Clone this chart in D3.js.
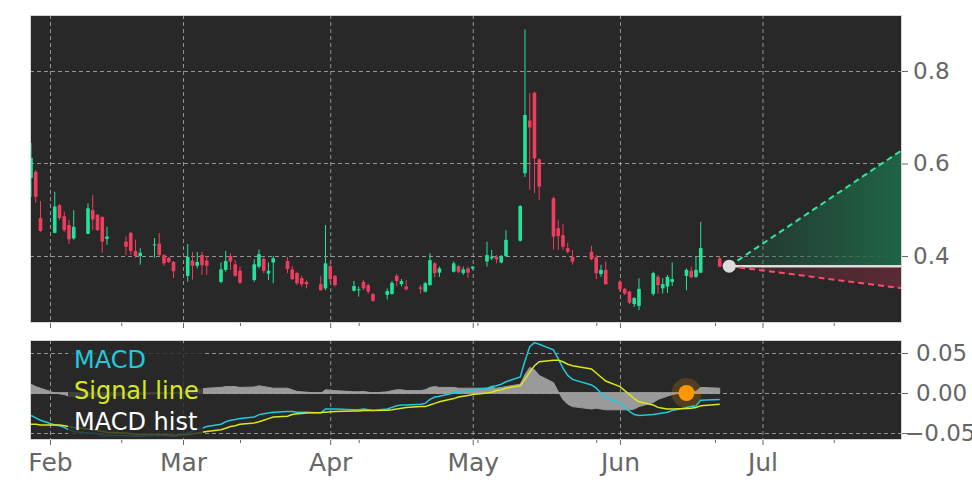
<!DOCTYPE html>
<html>
<head>
<meta charset="utf-8">
<script src="https://cdn.jsdelivr.net/npm/d3@7"></script>
<style>
	body { margin: 0; background: #ffffff; }
	svg text { font-family: "DejaVu Sans", sans-serif; }
</style>
</head>
<body>
<div id="chart"></div>
<script>
// trading days (weekends and holidays skipped)
var dates = [
	"2026-01-28","2026-01-29","2026-01-30",
	"2026-02-02","2026-02-03","2026-02-04","2026-02-05","2026-02-06",
	"2026-02-09","2026-02-10","2026-02-11","2026-02-12","2026-02-13",
	"2026-02-17","2026-02-18","2026-02-19","2026-02-20",
	"2026-02-23","2026-02-24","2026-02-25","2026-02-26","2026-02-27",
	"2026-03-02","2026-03-03","2026-03-04","2026-03-05","2026-03-06",
	"2026-03-09","2026-03-10","2026-03-11","2026-03-12","2026-03-13",
	"2026-03-16","2026-03-17","2026-03-18","2026-03-19","2026-03-20",
	"2026-03-23","2026-03-24","2026-03-25","2026-03-26","2026-03-27",
	"2026-03-30","2026-03-31","2026-04-01","2026-04-02",
	"2026-04-06","2026-04-07","2026-04-08","2026-04-09","2026-04-10",
	"2026-04-13","2026-04-14","2026-04-15","2026-04-16","2026-04-17",
	"2026-04-20","2026-04-21","2026-04-22","2026-04-23","2026-04-24",
	"2026-04-27","2026-04-28","2026-04-29","2026-04-30","2026-05-01",
	"2026-05-04","2026-05-05","2026-05-06","2026-05-07","2026-05-08",
	"2026-05-11","2026-05-12","2026-05-13","2026-05-14","2026-05-15",
	"2026-05-18","2026-05-19","2026-05-20","2026-05-21","2026-05-22",
	"2026-05-26","2026-05-27","2026-05-28","2026-05-29",
	"2026-06-01","2026-06-02","2026-06-03","2026-06-04","2026-06-05",
	"2026-06-08","2026-06-09","2026-06-10","2026-06-11","2026-06-12",
	"2026-06-15","2026-06-16","2026-06-17","2026-06-18",
	"2026-06-22"
];

var opens = [
	0.569,0.582,0.482,
	0.450,0.510,0.486,0.467,0.438,
	0.448,0.499,0.489,0.484,0.437,
	0.431,0.450,0.411,0.400,
	0.423,0.427,0.402,0.396,0.387,
	0.357,0.390,0.379,0.402,0.390,
	0.344,0.370,0.400,0.382,0.368,
	0.348,0.377,0.394,0.362,0.386,
	0.389,0.371,0.363,0.352,0.344,
	0.339,0.330,0.378,0.357,
	0.325,0.326,0.344,0.337,0.318,
	0.316,0.318,0.357,0.339,0.334,
	0.332,0.323,0.337,0.384,0.364,
	0.366,0.378,0.363,0.373,0.373,
	0.388,0.395,0.398,0.386,0.400,
	0.433,0.579,0.693,0.753,0.609,
	0.525,0.460,0.445,0.417,0.398,
	0.409,0.397,0.361,0.370,
	0.344,0.329,0.323,0.296,0.292,
	0.318,0.355,0.330,0.334,0.344,
	0.357,0.368,0.355,0.364,
	0.395
];
var highs = [
	0.644,0.586,0.519,
	0.539,0.512,0.496,0.478,0.499,
	0.514,0.532,0.491,0.486,0.463,
	0.442,0.452,0.435,0.417,
	0.439,0.450,0.404,0.398,0.389,
	0.426,0.409,0.409,0.409,0.400,
	0.386,0.411,0.406,0.391,0.377,
	0.393,0.414,0.397,0.386,0.400,
	0.398,0.378,0.366,0.357,0.347,
	0.357,0.467,0.386,0.359,
	0.346,0.334,0.348,0.340,0.320,
	0.330,0.346,0.361,0.350,0.348,
	0.337,0.344,0.406,0.387,0.377,
	0.388,0.380,0.377,0.377,0.378,
	0.431,0.413,0.402,0.402,0.456,
	0.510,0.890,0.752,0.755,0.611,
	0.528,0.478,0.469,0.429,0.413,
	0.422,0.402,0.381,0.388,
	0.348,0.331,0.325,0.311,0.352,
	0.366,0.359,0.352,0.359,0.386,
	0.373,0.377,0.398,0.474,
	0.400
];
var lows = [
	0.528,0.515,0.452,
	0.449,0.478,0.452,0.426,0.435,
	0.447,0.456,0.454,0.407,0.424,
	0.402,0.402,0.396,0.381,
	0.396,0.399,0.379,0.385,0.352,
	0.344,0.349,0.373,0.359,0.359,
	0.341,0.366,0.370,0.355,0.340,
	0.344,0.373,0.363,0.348,0.341,
	0.363,0.348,0.337,0.333,0.330,
	0.325,0.326,0.341,0.334,
	0.323,0.312,0.326,0.318,0.301,
	0.306,0.316,0.335,0.334,0.325,
	0.319,0.321,0.336,0.354,0.355,
	0.364,0.363,0.359,0.352,0.370,
	0.377,0.391,0.384,0.384,0.398,
	0.431,0.571,0.543,0.536,0.521,
	0.414,0.413,0.413,0.406,0.381,
	0.391,0.350,0.355,0.338,
	0.323,0.316,0.296,0.290,0.283,
	0.314,0.319,0.319,0.320,0.335,
	0.326,0.352,0.352,0.363,
	0.376
];
var closes = [
	0.612,0.528,0.454,
	0.507,0.482,0.456,0.436,0.463,
	0.503,0.479,0.456,0.431,0.442,
	0.420,0.411,0.400,0.407,
	0.425,0.402,0.384,0.387,0.367,
	0.398,0.379,0.387,0.380,0.379,
	0.371,0.389,0.388,0.357,0.342,
	0.382,0.404,0.368,0.368,0.395,
	0.372,0.350,0.341,0.339,0.339,
	0.326,0.384,0.350,0.337,
	0.335,0.328,0.330,0.323,0.303,
	0.324,0.342,0.346,0.346,0.328,
	0.329,0.341,0.391,0.363,0.373,
	0.384,0.366,0.371,0.364,0.377,
	0.402,0.398,0.393,0.400,0.435,
	0.508,0.705,0.678,0.611,0.550,
	0.442,0.443,0.420,0.409,0.388,
	0.393,0.363,0.370,0.339,
	0.328,0.319,0.299,0.309,0.329,
	0.363,0.337,0.339,0.355,0.350,
	0.370,0.354,0.370,0.417,
	0.377
];

var macdLine = [
	-0.028,-0.031,-0.034,
	-0.040,-0.041,-0.043,-0.046,-0.048,
	-0.050,-0.050,-0.051,-0.053,-0.053,
	-0.053,-0.054,-0.054,-0.054,
	-0.053,-0.053,-0.053,-0.053,-0.054,
	-0.050,-0.048,-0.045,-0.044,-0.042,
	-0.039,-0.036,-0.034,-0.033,-0.032,
	-0.030,-0.027,-0.026,-0.025,-0.024,
	-0.023,-0.023,-0.024,-0.024,-0.024,
	-0.025,-0.020,-0.020,-0.020,
	-0.021,-0.021,-0.020,-0.021,-0.022,
	-0.020,-0.018,-0.016,-0.015,-0.015,
	-0.014,-0.013,-0.008,-0.005,-0.004,
	0.000,0.001,0.002,0.003,0.004,
	0.006,0.008,0.009,0.011,0.014,
	0.020,0.040,0.058,0.063,0.061,
	0.054,0.043,0.031,0.022,0.017,
	0.010,0.006,0.000,-0.006,
	-0.013,-0.018,-0.023,-0.027,-0.028,
	-0.027,-0.026,-0.025,-0.024,-0.022,
	-0.018,-0.017,-0.016,-0.009,
	-0.008
];
var signalLine = [
	-0.039,-0.039,-0.040,
	-0.040,-0.040,-0.041,-0.042,-0.043,
	-0.045,-0.046,-0.047,-0.048,-0.049,
	-0.050,-0.051,-0.052,-0.052,
	-0.052,-0.052,-0.052,-0.052,-0.053,
	-0.052,-0.051,-0.050,-0.049,-0.048,
	-0.046,-0.044,-0.042,-0.041,-0.039,
	-0.0375,-0.036,-0.034,-0.032,-0.030,
	-0.029,-0.027,-0.026,-0.0255,-0.025,
	-0.0245,-0.024,-0.0235,-0.023,
	-0.0225,-0.0225,-0.022,-0.022,-0.022,
	-0.0215,-0.021,-0.020,-0.019,-0.018,
	-0.017,-0.017,-0.015,-0.013,-0.011,
	-0.007,-0.005,-0.004,-0.003,-0.002,
	0.000,0.001,0.003,0.004,0.006,
	0.009,0.017,0.026,0.034,0.039,
	0.041,0.041,0.039,0.036,0.034,
	0.030,0.025,0.020,0.015,
	0.008,0.003,-0.002,-0.007,-0.011,
	-0.015,-0.018,-0.019,-0.020,-0.020,
	-0.0195,-0.019,-0.018,-0.016,
	-0.014
];

// forecast cone from the last close
var coneDates = ["2026-06-24", "2026-07-30T09:00"];
var coneUpper = [0.378, 0.629];
var coneLower = [0.378, 0.330];
var lastClose = 0.378;

var crossDate = "2026-06-15";
var crossValue = 0.0;

var yTicks = [0.4, 0.6, 0.8];
var macdTicks = [-0.05, 0.0, 0.05];
var minorTicks = ["2026-02-16","2026-03-13","2026-04-07","2026-05-02","2026-05-27","2026-06-21","2026-07-16"];
var legendItems = [
	{ label: "MACD", color: "#22c8dc" },
	{ label: "Signal line", color: "#d7e81b" },
	{ label: "MACD hist", color: "#ffffff" }
];

var WIDTH = 972, HEIGHT = 486;
var panel = { left: 30, right: 902 };
var mainBox = { top: 15, bottom: 323 };
var macdBox = { top: 340, bottom: 440 };

var GREEN = "#1fe59a", RED = "#f03d5f", BG = "#282828";
var GRID = "rgba(205,205,205,0.65)", LABEL = "#666666";

var parseDay = d3.isoParse;
var days = dates.map(parseDay);

var x = d3.scaleUtc()
	.domain([new Date(Date.UTC(2026, 0, 27, 19)), new Date(Date.UTC(2026, 6, 30, 9))])
	.range([panel.left, panel.right]);
var y = d3.scaleLinear().domain([0.2551, 0.9211]).range([mainBox.bottom, mainBox.top]);
var yM = d3.scaleLinear().domain([-0.05875, 0.06625]).range([macdBox.bottom, macdBox.top]);

var svg = d3.select("#chart")
	.append("svg")
		.attr("width", WIDTH)
		.attr("height", HEIGHT);

var defs = svg.append("defs");

function addPanel(id, box) {
	svg.append("rect")
		.attr("x", panel.left).attr("y", box.top)
		.attr("width", panel.right - panel.left).attr("height", box.bottom - box.top)
		.attr("fill", BG);
	defs.append("clipPath")
		.attr("id", id)
		.append("rect")
		.attr("x", panel.left).attr("y", box.top)
		.attr("width", panel.right - panel.left).attr("height", box.bottom - box.top);
	return svg.append("g").attr("clip-path", "url(#" + id + ")");
}

var mainG = addPanel("clip-main", mainBox);
var macdG = addPanel("clip-macd", macdBox);

var months = x.ticks(d3.utcMonth.every(1));

// grid
[[mainG, mainBox, y, yTicks], [macdG, macdBox, yM, macdTicks]].forEach(function(p) {
	var g = p[0], box = p[1], sc = p[2], tv = p[3];
	g.selectAll(".vgrid").data(months).enter().append("line")
		.attr("x1", function(d) { return x(d) + 0.5; })
		.attr("x2", function(d) { return x(d) + 0.5; })
		.attr("y1", box.top).attr("y2", box.bottom)
		.attr("stroke", GRID).attr("stroke-dasharray", "4,3");
	g.selectAll(".hgrid").data(tv).enter().append("line")
		.attr("x1", panel.left).attr("x2", panel.right)
		.attr("y1", function(d) { return Math.round(sc(d)) + 0.5; })
		.attr("y2", function(d) { return Math.round(sc(d)) + 0.5; })
		.attr("stroke", GRID).attr("stroke-dasharray", "4,3");
});

// forecast cone
var cd = coneDates.map(parseDay);
var gradUp = defs.append("linearGradient").attr("id", "grad-up")
	.attr("gradientUnits", "userSpaceOnUse")
	.attr("x1", x(cd[0])).attr("x2", x(cd[1])).attr("y1", 0).attr("y2", 0);
gradUp.append("stop").attr("offset", 0).attr("stop-color", "#1f6446").attr("stop-opacity", 0.15);
gradUp.append("stop").attr("offset", 1).attr("stop-color", "#1f6446").attr("stop-opacity", 1);
var gradDn = defs.append("linearGradient").attr("id", "grad-dn")
	.attr("gradientUnits", "userSpaceOnUse")
	.attr("x1", x(cd[0])).attr("x2", x(cd[1])).attr("y1", 0).attr("y2", 0);
gradDn.append("stop").attr("offset", 0).attr("stop-color", "#5c2a34").attr("stop-opacity", 0.3);
gradDn.append("stop").attr("offset", 1).attr("stop-color", "#5c2a34").attr("stop-opacity", 1);

var coneIdx = [0, 1];
mainG.append("path")
	.attr("d", d3.area()
		.x(function(i) { return x(cd[i]); })
		.y0(y(lastClose))
		.y1(function(i) { return y(coneUpper[i]); })(coneIdx))
	.attr("fill", "url(#grad-up)");
mainG.append("path")
	.attr("d", d3.area()
		.x(function(i) { return x(cd[i]); })
		.y0(y(lastClose))
		.y1(function(i) { return y(coneLower[i]); })(coneIdx))
	.attr("fill", "url(#grad-dn)");
mainG.append("line")
	.attr("x1", x(cd[0])).attr("x2", x(cd[1]))
	.attr("y1", y(lastClose)).attr("y2", y(lastClose))
	.attr("stroke", "#dddddd").attr("stroke-width", 2.5);
mainG.append("path")
	.attr("d", d3.line().x(function(i) { return x(cd[i]); }).y(function(i) { return y(coneUpper[i]); })(coneIdx))
	.attr("fill", "none").attr("stroke", "#2ee6a0").attr("stroke-width", 2).attr("stroke-dasharray", "6,4");
mainG.append("path")
	.attr("d", d3.line().x(function(i) { return x(cd[i]); }).y(function(i) { return y(coneLower[i]); })(coneIdx))
	.attr("fill", "none").attr("stroke", "#ff4a6a").attr("stroke-width", 2).attr("stroke-dasharray", "6,4");

// candles
var idx = d3.range(days.length);
var candle = mainG.selectAll(".candle").data(idx).enter().append("g");
function colorOf(i) { return closes[i] >= opens[i] ? GREEN : RED; }
candle.append("line")
	.attr("x1", function(i) { return x(days[i]); })
	.attr("x2", function(i) { return x(days[i]); })
	.attr("y1", function(i) { return y(highs[i]); })
	.attr("y2", function(i) { return y(lows[i]); })
	.attr("stroke", colorOf).attr("stroke-width", 1);
candle.append("rect")
	.attr("x", function(i) { return x(days[i]) - 1.8; })
	.attr("width", 3.6)
	.attr("y", function(i) { return y(Math.max(opens[i], closes[i])); })
	.attr("height", function(i) { return Math.max(1, Math.abs(y(opens[i]) - y(closes[i]))); })
	.attr("fill", colorOf);

mainG.append("circle")
	.attr("cx", x(cd[0])).attr("cy", y(lastClose)).attr("r", 6.5)
	.attr("fill", "#dcdcdc");

// MACD panel
var hist = idx.map(function(i) { return macdLine[i] - signalLine[i]; });
macdG.append("path")
	.attr("d", d3.area()
		.x(function(i) { return x(days[i]); })
		.y0(yM(0))
		.y1(function(i) { return yM(hist[i]); })(idx))
	.attr("fill", "#9a9a9a").attr("stroke", "#9a9a9a").attr("stroke-width", 1);
macdG.append("line")
	.attr("x1", x(days[0])).attr("x2", x(days[days.length - 1]))
	.attr("y1", yM(0)).attr("y2", yM(0))
	.attr("stroke", "#a0a0a0").attr("stroke-width", 1.5);
macdG.append("path")
	.attr("d", d3.line().x(function(i) { return x(days[i]); }).y(function(i) { return yM(macdLine[i]); })(idx))
	.attr("fill", "none").attr("stroke", legendItems[0].color).attr("stroke-width", 1.5);
macdG.append("path")
	.attr("d", d3.line().x(function(i) { return x(days[i]); }).y(function(i) { return yM(signalLine[i]); })(idx))
	.attr("fill", "none").attr("stroke", legendItems[1].color).attr("stroke-width", 1.5);

var cx = x(parseDay(crossDate)), cy = yM(crossValue);
macdG.append("circle").attr("cx", cx).attr("cy", cy).attr("r", 15).attr("fill", "#ff9800").attr("opacity", 0.2);
macdG.append("circle").attr("cx", cx).attr("cy", cy).attr("r", 8).attr("fill", "#ff9800");

// legend
var legend = macdG.append("g");
legend.append("rect")
	.attr("x", 68).attr("y", 343).attr("width", 135).attr("height", 94)
	.attr("fill", BG).attr("opacity", 0.8);
legend.selectAll("text").data(legendItems).enter().append("text")
	.attr("x", 74)
	.attr("y", function(d, i) { return 368 + i * 31; })
	.attr("fill", function(d) { return d.color; })
	.attr("font-size", 24)
	.text(function(d) { return d.label; });

// frames
[mainBox, macdBox].forEach(function(box) {
	svg.append("rect")
		.attr("x", panel.left + 0.5).attr("y", box.top + 0.5)
		.attr("width", panel.right - panel.left - 1).attr("height", box.bottom - box.top - 1)
		.attr("fill", "none").attr("stroke", "#d4d4d4").attr("stroke-width", 1);
});

// axes
function styleAxis(size) {
	return function(g) {
		g.select(".domain").remove();
		g.selectAll(".tick line").attr("stroke", LABEL);
		g.selectAll(".tick text").attr("fill", LABEL).attr("font-size", size)
			.attr("font-family", "DejaVu Sans, sans-serif");
	};
}
svg.append("g")
	.attr("transform", "translate(" + panel.right + ",0)")
	.call(d3.axisRight(y).tickValues(yTicks).tickSize(6).tickPadding(5).tickFormat(d3.format(".1f")))
	.call(styleAxis(23));
var macdAxis = svg.append("g")
	.attr("transform", "translate(" + panel.right + ",0)")
	.call(d3.axisRight(yM).tickValues(macdTicks).tickSize(6).tickPadding(8)
		.tickFormat(function(d) { return d3.format(".2f")(d).replace("-", "\u2212"); }))
	.call(styleAxis(23));
// negative label sits further left, as in the source
macdAxis.selectAll(".tick text").attr("x", function(d) { return d < 0 ? 3 : 14; });

[mainBox.bottom, macdBox.bottom].forEach(function(yb, k) {
	var ax = svg.append("g")
		.attr("transform", "translate(0," + yb + ")")
		.call(d3.axisBottom(x).tickValues(months).tickSize(5).tickPadding(8).tickFormat(k ? d3.utcFormat("%b") : ""))
		.call(styleAxis(25));
	svg.append("g")
		.attr("transform", "translate(0," + yb + ")")
		.call(d3.axisBottom(x).tickValues(minorTicks.map(parseDay)).tickSize(3).tickFormat(""))
		.call(styleAxis(25));
});
</script>
</body>
</html>
